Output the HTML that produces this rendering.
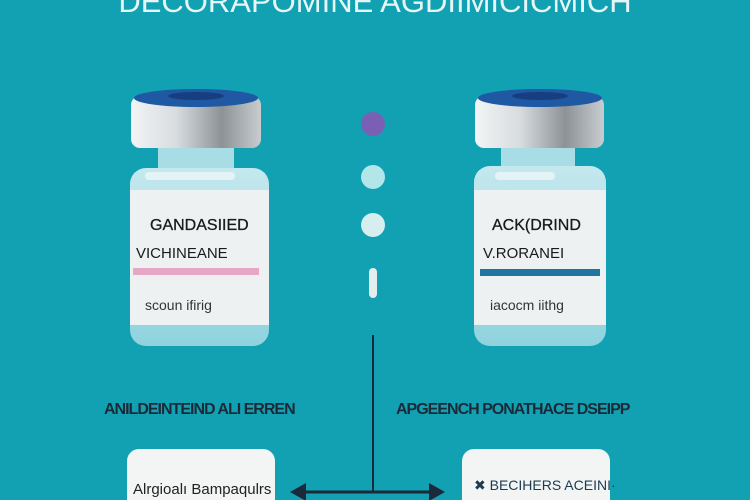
<!DOCTYPE html>
<html><head><meta charset="utf-8"><style>
html,body{margin:0;padding:0;width:750px;height:500px;overflow:hidden;background:#12a0b3}
svg{display:block}
text{font-family:"Liberation Sans",sans-serif}
</style></head><body>
<svg width="750" height="500" viewBox="0 0 750 500" xmlns="http://www.w3.org/2000/svg">
<defs>
<linearGradient id="cap" x1="0" x2="1" y1="0" y2="0">
<stop offset="0" stop-color="#f2f4f5"/><stop offset="0.35" stop-color="#d8dcdf"/><stop offset="0.7" stop-color="#8c9296"/><stop offset="1" stop-color="#c9cdd0"/>
</linearGradient>
<linearGradient id="glass" x1="0" x2="0" y1="0" y2="1">
<stop offset="0" stop-color="#c4e8ee"/><stop offset="1" stop-color="#8fd3de"/>
</linearGradient>
</defs>
<rect width="750" height="500" fill="#12a0b3"/>
<text x="375" y="12" text-anchor="middle" font-size="31" fill="#e6f6f7">DECORAPOMINE AGDIIMICICMICH</text>

<!-- left vial -->
<rect x="158" y="145" width="76" height="28" fill="#a9dde6"/>
<rect x="130" y="168" width="139" height="178" rx="16" fill="url(#glass)"/>
<rect x="145" y="172" width="90" height="8" rx="4" fill="#e4f4f6"/>
<rect x="130" y="190" width="139" height="135" fill="#eef1f2"/>
<rect x="131" y="96" width="130" height="52" rx="9" fill="url(#cap)"/>
<ellipse cx="196" cy="98" rx="62" ry="9" fill="#1f58a3"/>
<ellipse cx="196" cy="96" rx="28" ry="4" fill="#173f7f"/>
<text x="150" y="230" font-size="16" fill="#1a1a1a" stroke="#1a1a1a" stroke-width="0.3">GANDASIIED</text>
<text x="136" y="258" font-size="15" fill="#1a1a1a">VICHINEANE</text>
<rect x="133" y="268" width="126" height="7" fill="#e8a6c6"/>
<text x="145" y="310" font-size="14" fill="#333">scoun ifirig</text>

<!-- right vial -->
<rect x="501" y="145" width="74" height="28" fill="#a9dde6"/>
<rect x="474" y="166" width="132" height="180" rx="16" fill="url(#glass)"/>
<rect x="495" y="172" width="60" height="8" rx="4" fill="#e4f4f6"/>
<rect x="474" y="190" width="132" height="135" fill="#eef1f2"/>
<rect x="475" y="96" width="129" height="52" rx="9" fill="url(#cap)"/>
<ellipse cx="540" cy="98" rx="62" ry="9" fill="#1f58a3"/>
<ellipse cx="540" cy="96" rx="28" ry="4" fill="#173f7f"/>
<text x="492" y="230" font-size="16" fill="#1a1a1a" stroke="#1a1a1a" stroke-width="0.3">ACK(DRIND</text>
<text x="483" y="258" font-size="15" fill="#1a1a1a">V.RORANEI</text>
<rect x="480" y="269" width="120" height="7" fill="#1f74a0"/>
<text x="490" y="310" font-size="14" fill="#333">iacocm iithg</text>

<!-- dots -->
<circle cx="373" cy="124" r="12" fill="#7a60b4"/>
<circle cx="373" cy="177" r="12" fill="#b2e6e8"/>
<circle cx="373" cy="225" r="12" fill="#d6eeee"/>
<rect x="369" y="268" width="8" height="30" rx="4" fill="#e4eeef"/>

<!-- connectors -->
<line x1="373" y1="335" x2="373" y2="492" stroke="#1a2a3a" stroke-width="2"/>
<line x1="300" y1="492" x2="435" y2="492" stroke="#1a2a3a" stroke-width="3"/>
<polygon points="290,492 306,483 306,501" fill="#1a2a3a"/>
<polygon points="445,492 429,483 429,501" fill="#1a2a3a"/>

<text x="104" y="414" font-size="16" font-weight="bold" fill="#1c2a38" letter-spacing="-1">ANILDEINTEIND ALI ERREN</text>
<text x="396" y="414" font-size="16" font-weight="bold" fill="#1c2a38" letter-spacing="-1">APGEENCH PONATHACE DSEIPP</text>

<rect x="127" y="449" width="148" height="70" rx="12" fill="#f3f5f5"/>
<text x="133" y="494" font-size="15" fill="#222">Alrgioalı Bampaqulrs</text>
<rect x="462" y="449" width="148" height="70" rx="12" fill="#f3f5f5"/>
<text x="474" y="490" font-size="14" fill="#1c3a50">✖ BECIHERS ACEINI·</text>
</svg>
</body></html>
